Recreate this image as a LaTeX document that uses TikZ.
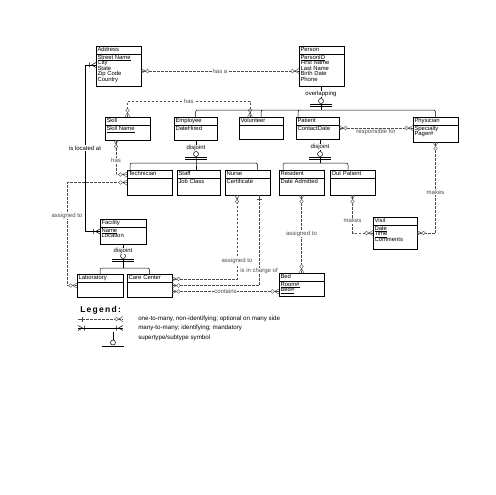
\documentclass[tikz,border=0pt]{standalone}
\usepackage{fontspec}
\setmainfont{Liberation Sans}
\newfontfamily\legfont[LetterSpace=15]{Liberation Sans}
\usetikzlibrary{decorations.markings}
\lineskiplimit=-10pt

\begin{document}
\begin{tikzpicture}[x=1pt, y=-1pt, line width=0.5pt,
	ebox/.style={draw, rectangle, anchor=north west, inner sep=0pt, outer sep=0pt},
	etitle/.style={anchor=north west, align=left, inner xsep=1.5pt, inner ysep=1.2pt, outer sep=0pt, text height=4.3pt, text depth=1.2pt, font=\fontsize{5.9}{5.5}\selectfont},
	eattr/.style={anchor=north west, align=left, inner xsep=1.5pt, inner ysep=1.2pt, outer sep=0pt, font=\fontsize{5.9}{5.5}\selectfont},
	rel/.style={dash pattern=on 2.5pt off 1.5pt, line width=0.4pt, black!70},
	idrel/.style={line width=0.5pt},
	sub/.style={rounded corners=2pt},
	lbl/.style={fill=white, inner sep=0.6pt, font=\fontsize{6}{6}\selectfont},
	ltxt/.style={anchor=west, inner sep=0pt, font=\fontsize{6.2}{7}\selectfont},
	catc/.style={circle, draw, fill=white, minimum size=5pt, inner sep=0pt},
	cfo start/.style={postaction={decorate, decoration={markings, mark=at position 0 with {
		\draw[solid] (0,0) -- (4.5pt,0) -- (0,2.5pt) (4.5pt,0) -- (0,-2.5pt);
		\draw[solid, fill=white] (6.5pt,0) circle (1.8pt);}}}},
	cfo end/.style={postaction={decorate, decoration={markings, mark=at position 1 with {
		\draw[solid] (0,0) -- (-4.5pt,0) -- (0,2.5pt) (-4.5pt,0) -- (0,-2.5pt);
		\draw[solid, fill=white] (-6.5pt,0) circle (1.8pt);}}}},
	cfbar start/.style={postaction={decorate, decoration={markings, mark=at position 0 with {
		\draw[solid] (4.5pt,0) -- (0,2.5pt) (4.5pt,0) -- (0,-2.5pt) (6.5pt,2.5pt) -- (6.5pt,-2.5pt);}}}},
	cfbar end/.style={postaction={decorate, decoration={markings, mark=at position 1 with {
		\draw[solid] (-4.5pt,0) -- (0,2.5pt) (-4.5pt,0) -- (0,-2.5pt) (-6.5pt,2.5pt) -- (-6.5pt,-2.5pt);}}}},
	bar start/.style={postaction={decorate, decoration={markings, mark=at position 0 with {
		\draw[solid] (0,0) -- (4pt,0) (4pt,2.5pt) -- (4pt,-2.5pt);}}}},
	bar end/.style={postaction={decorate, decoration={markings, mark=at position 1 with {
		\draw[solid] (0,0) -- (-4pt,0) (-4pt,2.5pt) -- (-4pt,-2.5pt);}}}}]

	\useasboundingbox (0,0) rectangle (495,495);

	%entities: name/x/y/width/height/title/attributes
	\foreach \en/\ex/\ey/\ew/\eh/\et/\ea in {
		addr/96/46/45/40/Address/{\underline{Street Name}\\City\\State\\Zip Code\\Country},
		person/299/46/45/40/Person/{\underline{PersonID}\\First Name\\Last Name\\Birth Date\\Phone},
		skill/105/117/45/23/Skill/{\underline{Skill Name}},
		emp/174/117/43/23/Employee/{DateHired},
		vol/239/117/44/22/Volunteer/{},
		pat/296/117/43/22/Patient/{ContactDate},
		phys/413/117/45/25/Physician/{Specialty\\Pager\#},
		tech/127/170/45/25/Technician/{},
		staff/177/170/43/25/Staff/{Job Class},
		nurse/225/170/45/25/Nurse/{Certificate},
		res/279/170/45/25/Resident/{Date Admitted},
		outp/330/170/45/25/Out Patient/{},
		fac/100/219/46/25/Facility/{\underline{Name}\\Location},
		lab/77/274/46/23/Laboratory/{},
		care/127/274/45/23/Care Center/{},
		visit/373/217/44/32/Visit/{\underline{Date}\\\underline{Time}\\Comments},
		bed/279/273/45/23/Bed/{\underline{Room\#}\\\underline{Bed\#}}}{
		\node[ebox, minimum width=\ew pt, minimum height=\eh pt] (\en) at (\ex,\ey) {};
		\node[etitle, text width=\ew pt-3pt] (t\en) at (\en.north west) {\et};
		\draw (t\en.south west) -- (t\en.south east);
		\node[eattr] (a\en) at (t\en.south west) {\ea};
	}

	%relationships
	\draw[rel, cfo start, cfo end] ([yshift=-5pt]addr.east) -- node[lbl] {has a} ([yshift=-5pt]person.west);
	\draw[rel, cfo start, cfo end] (skill.north) -- ++(0,-16) -| node[lbl, pos=0.25] {has} ([xshift=11pt]vol.north west);
	\draw[rel, cfo start, cfo end] (pat.east) -- node[lbl, below=0.3pt, fill=none] {responsible for} (pat.east -| phys.west);
	\draw[rel, cfo start, cfo end] ([xshift=-11.5pt]skill.south) |- node[lbl, pos=0.3] {has} ([yshift=8pt]tech.west);
	\draw[rel, cfo start, cfo end] (lab.west) -- ++(-10,0) |- node[lbl, pos=0.34] {assigned to} (tech.west);
	\draw[idrel, cfbar start, cfbar end] ([yshift=1pt]addr.west) -- ++(-11,0) |- node[lbl, pos=0.25] {is located at} (fac.west);
	\draw[rel, cfo start, cfo end] ([yshift=6.5pt]care.east) -| node[lbl, pos=0.61] {assigned to} ([xshift=-10.5pt]nurse.south);
	\draw[rel, cfo start, bar end] (care.east) -| node[lbl, pos=0.58] {is in charge of} ([xshift=11.5pt]nurse.south);
	\draw[rel, cfo start, cfo end] ([yshift=-6pt]care.east) -- node[lbl] {contains} ([yshift=-6pt]care.east -| bed.west);
	\draw[rel, cfo start, cfo end] (res.south) -- node[lbl] {assigned to} (bed.north);
	\draw[rel, cfo start, cfo end] (outp.south) |- node[lbl, pos=0.34] {makes} (visit.west);
	\draw[rel, cfo start, cfo end] (phys.south) |- node[lbl, pos=0.275] {makes} (visit.east);

	%supertype/subtype symbols
	\node[catc] (cper) at (321,101) {};
	\node[catc] (cemp) at (196,154) {};
	\node[catc] (cpat) at (320,154) {};
	\node[catc] (cfac) at (123,256) {};
	\foreach \c in {cper, cemp, cpat, cfac}{
		\draw ([xshift=-11pt,yshift=-0.5pt]\c.south) -- ([xshift=11pt,yshift=-0.5pt]\c.south)
			([xshift=-11pt,yshift=-2pt]\c.south) -- ([xshift=11pt,yshift=-2pt]\c.south);
	}
	\draw (person.south -| cper) -- (cper);
	\draw (emp.south -| cemp) -- (cemp);
	\draw (pat.south -| cpat) -- (cpat);
	\draw (fac.south -| cfac) -- (cfac);
	\node[lbl] (lover) at (321,94) {overlapping};
	\node[lbl] (ldemp) at (196,148) {disjoint};
	\node[lbl] (ldpat) at (320,147) {disjoint};
	\node[lbl] (ldfac) at (123,251) {disjoint};

	\coordinate (bper) at (321,110);
	\draw (cper.south) -- (bper);
	\draw[sub] (bper) -| (emp.north) (bper) -| (vol.north) (bper) -| ([xshift=2pt]pat.north west) (bper) -| (phys.north);
	\coordinate (bemp) at (196,163);
	\draw (cemp.south) -- (bemp) -- (bemp |- staff.north);
	\draw[sub] (bemp) -| ([xshift=3pt]tech.north west) (bemp) -| ([xshift=10pt]nurse.north);
	\coordinate (bpat) at (320,163);
	\draw (cpat.south) -- (bpat);
	\draw[sub] (bpat) -| ([xshift=4pt]res.north west) (bpat) -| ([xshift=-4.5pt]outp.north);
	\coordinate (bfac) at (123,268);
	\draw (cfac.south) -- (bfac);
	\draw[sub] (bfac) -| (lab.north) (bfac) -| (care.north);

	%legend
	\node[anchor=west, inner sep=0pt, font=\legfont\bfseries\fontsize{8.5}{9}\selectfont] (legend) at (80,310) {Legend:};
	\coordinate (l1a) at (78,319);
	\coordinate (l1b) at (123,319);
	\draw[rel, bar start, cfo end] (l1a) -- (l1b);
	\coordinate (l2a) at (78,328);
	\coordinate (l2b) at (123,328);
	\draw[idrel, cfbar start, cfbar end] (l2a) -- (l2b);
	\node[catc] (lcat) at (113,342.5) {};
	\coordinate (ltop) at (113,332);
	\draw (ltop) -- (lcat);
	\draw ([xshift=-11pt,yshift=-0.5pt]lcat.south) -- ([xshift=11pt,yshift=-0.5pt]lcat.south);
	\node[ltxt] (lt1) at (138,319) {one-to-many, non-identifying; optional on many side};
	\node[ltxt] (lt2) at (138,328) {many-to-many; identifying; mandatory};
	\node[ltxt] (lt3) at (138,338) {supertype/subtype symbol};
\end{tikzpicture}
\end{document}
